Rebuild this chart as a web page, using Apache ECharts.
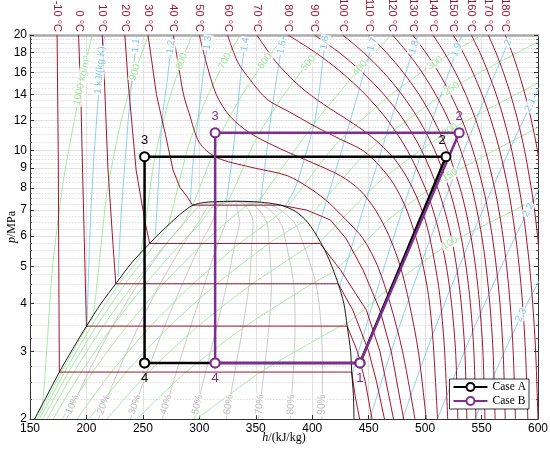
<!DOCTYPE html>
<html><head><meta charset="utf-8">
<script src="https://cdn.jsdelivr.net/npm/echarts@6/dist/echarts.min.js"></script>
<style>html,body{margin:0;padding:0;background:#fff}#c{width:550px;height:450px}</style>
</head><body><div id="c"></div>
<script>
// ---------- tick labels ----------
const pMajorTicks = [2,3,4,5,6,7,8,9,10,12,14,16,18,20];
const pMinorTicks = [2.25,2.5,2.75,3.25,3.5,3.75,4.25,4.5,4.75,5.25,5.5,5.75,6.25,6.5,6.75,7.25,7.5,7.75,8.25,8.5,8.75,9.25,9.5,9.75,10.5,11,11.5,12.5,13,13.5,14.5,15,15.5,16.5,17,17.5,18.5,19,19.5];
const topTempText = ['-10 °C','0 °C','10 °C','20 °C','30 °C','40 °C','50 °C','60 °C','70 °C','80 °C','90 °C','100 °C','110 °C','120 °C','130 °C','140 °C','150 °C','160 °C','170 °C','180 °C'];
const topTempH = [174,193,214,234,254.5,277,300,325,351,378.5,402,427,450,471,489,507,525,541,556,571];

// ---------- saturation dome [h, p] ----------
const satLiquid = [[154,2.0],[165,2.3],[176,2.65],[188,3.05],[200,3.49],[213,4.0],[226,4.5],[240,5.1],[256,5.73],[265,6.1],[275,6.5],[285,6.9],[294,7.2],[305,7.33],[318,7.37],[332,7.38]];
const satVapor = [[332,7.38],[345,7.37],[358,7.32],[372,7.21],[385,6.95],[396,6.5],[407,5.8],[415,5.2],[423,4.5],[428,4.0],[431,3.49],[434,3.0],[435,2.65],[436.5,2.3],[437,2.0]];

// ---------- isotherms (-10 ... 180 °C) [h, p] ----------
const isothermT = [-10,0,10,20,30,40,50,60,70,80,90,100,110,120,130,140,150,160,170,180];
const isotherms = [
 [[174,20],[175,10],[175.5,5],[176,2.65],[435,2.65],[438,2.3],[442,2.0]],
 [[193,20],[195,14],[196.5,9],[198,6],[200,3.49],[431,3.49],[440,3.0],[447,2.5],[453,2.0]],
 [[214,20],[216,15],[219,9],[221.5,7],[223.5,5.7],[226,4.5],[423,4.5],[436,3.84],[450,3.0],[457,2.5],[464,2.0]],
 [[234,20],[237,15],[240,12],[244,8.9],[249,7.3],[252.5,6.4],[256,5.73],[407,5.73],[425,4.89],[448,3.84],[460,3.0],[472,2.0]],
 [[254.5,20],[258,17],[262,14],[270,11],[276.7,8.9],[283,8.0],[289,7.6],[294,7.21],[372,7.21],[395,7.0],[416,6.6],[430,5.9],[445,4.89],[460,3.84],[470,3.0],[481,2.0]],
 [[277,20],[281,17],[286,14],[291,12.5],[300,10.5],[315,9.6],[345,9.06],[378,8.6],[400,7.9],[415,7.3],[430,6.6],[445,5.9],[458,5.0],[469,4.0],[480,3.0],[491,2.0]],
 [[300,20],[306,17],[315,14],[327,12.3],[345,11.1],[372,10.1],[400,9.3],[425,8.6],[442,7.9],[456,7.0],[468,6.0],[478,5.0],[486,4.0],[494,3.0],[501,2.0]],
 [[325,20],[334,17],[345,15.3],[360,13.6],[380,12.6],[404,11.5],[425,10.7],[445,10.0],[460,9.1],[472,8.2],[482,7.2],[490,6.2],[497,5.2],[503,4.2],[507,3.2],[511,2.0]],
 [[351,20],[368,17],[389,14.7],[410,13.2],[428,12.2],[445,11.3],[460,10.4],[473,9.5],[484,8.5],[494,7.4],[502,6.3],[508,5.2],[513,4.2],[517,3.1],[520,2.0]],
 [[378.5,20],[402.9,18],[425.7,16],[447,14],[466.7,12],[484.4,10],[500,8],[507,7],[513.2,6],[518.8,5],[523.4,4],[527,3],[529,2]],
 [[402,20],[423.9,18],[444.3,16],[463.5,14],[481.1,12],[497,10],[511,8],[517.2,7],[522.9,6],[527.8,5],[532,4],[535.2,3],[537,2]],
 [[427,20],[445.5,18],[463,16],[479.4,14],[494.7,12],[508.6,10],[521,8],[526.6,7],[531.7,6],[536.2,5],[540.1,4],[543.2,3],[545,2]],
 [[450,20],[465.7,18],[480.5,16],[494.6,14],[507.8,12],[519.9,10],[530.9,8],[535.9,7],[540.5,6],[544.6,5],[548.2,4],[551.2,3],[553,2]],
 [[471,20],[484.4,18],[497.2,16],[509.3,14],[520.9,12],[531.6,10],[541.4,8],[545.8,7],[550.1,6],[553.9,5],[557.3,4],[560.2,3],[562,2]],
 [[489,20],[500.6,18],[511.8,16],[522.6,14],[532.8,12],[542.4,10],[551.4,8],[555.5,7],[559.4,6],[563,5],[566.3,4],[569.1,3],[571,2]],
 [[507,20],[517,18],[526.7,16],[536,14],[545,12],[553.5,10],[561.5,8],[565.3,7],[568.9,6],[572.2,5],[575.3,4],[578,3],[580,2]],
 [[525,20],[533.7,18],[542.2,16],[550.4,14],[558.4,12],[566.1,10],[573.4,8],[576.8,7],[580.1,6],[583.3,5],[586.3,4],[588.9,3],[591,2]],
 [[541,20],[548.5,18],[555.8,16],[563,14],[570,12],[576.8,10],[583.3,8],[586.5,7],[589.5,6],[592.5,5],[595.3,4],[597.9,3],[600,2]],
 [[556,20],[562.7,18],[569.3,16],[575.7,14],[582,12],[588.1,10],[594,8],[596.9,7],[599.6,6],[602.2,5],[604.8,4],[607.1,3],[609,2]],
 [[571,20],[577,18],[582.8,16],[588.5,14],[594.1,12],[599.5,10],[604.7,8],[607.2,7],[609.7,6],[612,5],[614.2,4],[616.3,3],[618,2]]
];

// ---------- isentropes s = 1.0 ... 2.3 kJ/(kg K) [h, p] ----------
const isentropeS = [1.0,1.1,1.2,1.3,1.4,1.5,1.6,1.7,1.8,1.9,2.0,2.1,2.2,2.3];
const isentropes = [
 [[200.5,3.49],[203,6],[206,9],[209,12],[212.5,16],[216,20]],
 [[228,4.7],[231,7],[235,10],[239,14],[245,20]],
 [[261,6.0],[263.5,8],[267,12],[272,15.6],[276,20]],
 [[292,7.25],[294,9],[298.8,12],[303.2,15.6],[308.5,20]],
 [[324,7.37],[330,10],[334,13],[337.5,16.5],[342,20]],
 [[354,7.33],[358,9],[363,12],[370,16.5],[375,20]],
 [[376,7.15],[385,8],[393,9.5],[402.4,12],[406.5,14.5],[409.5,17.2],[412,20]],
 [[403,6.0],[410.1,7],[416.2,8],[426,10],[433.8,12],[440.3,14],[446,16],[451.2,18],[455.8,20]],
 [[424,4.4],[429.7,5],[437.9,6],[444.9,7],[451.1,8],[461.3,10],[469.6,12],[476.8,14],[483,16],[488.5,18],[493.6,20]],
 [[435,2.6],[441.1,3],[453.8,4],[464,5],[472.5,6],[479.9,7],[486.4,8],[497.3,10],[506.4,12],[514.2,14],[521,16],[527.1,18],[532.6,20]],
 [[451,2],[469.9,3],[484.2,4],[495.8,5],[505.6,6],[514.1,7],[521.6,8],[534.4,10],[545.1,12],[554.3,14],[562.5,16],[569.8,18],[576.4,20]],
 [[480,2],[501.2,3],[517.3,4],[530.4,5],[541.4,6],[551.1,7],[559.7,8],[574.5,10],[587,12],[598,14],[608,16]],
 [[511,2],[534.8,3],[552.9,4],[567.7,5],[580.3,6],[591.2,7],[601,8]],
 [[544,2],[570.4,3],[590.5,4],[608,5]]
];
const isentropeLabelText = ['1 kJ/(kg K)','1.1','1.2','1.3','1.4','1.5','1.6','1.7','1.8','1.9','2','2.1','2.2','2.3'];
const isentropeLabelAt = [[212,16.2],[243.8,18.8],[274.7,18.6],[307.4,19.1],[340.6,18.9],[373,18.6],[411.2,19.1],[453.3,18.9],[490.2,18.6],[527.9,18.3],[573.4,19.1],[593.3,13.15],[591.2,7.0],[585,3.73]];

// ---------- isochores rho = 1000 ... 100 kg/m3 [h, p] ----------
const isochoreRho = [1000,900,800,700,600,500,400,300,250,200,150,100];
const isochores = [
 [[154.5,2.0],[161,2.18],[170,5],[180,8.5],[190,12.3],[198.7,16.5],[205,20]],
 [[156.3,2.0],[177.9,2.65],[200.8,3.49],[206,3.72],[218,7.7],[230,11.7],[243,16],[255,20]],
 [[158.5,2.0],[180.6,2.65],[204.3,3.49],[228.8,4.5],[247,5.3],[260,9.4],[272,13.2],[284.4,17.1],[293.6,20]],
 [[161.3,2.0],[184.2,2.65],[208.8,3.49],[234.5,4.5],[261.3,5.73],[272,6.35],[290,10.2],[305,13.4],[322.7,17.1],[336.4,20]],
 [[165.1,2.0],[188.9,2.65],[214.8,3.49],[242,4.5],[270.6,5.73],[285.4,6.43],[294,7.2],[320,11.2],[340,14.3],[358,17.1],[376.7,20]],
 [[170.4,2.0],[195.5,2.65],[223.2,3.49],[252.5,4.5],[283.6,5.73],[300.1,6.43],[313.1,7.21],[325,7.37],[350,10.7],[375,14.0],[396.5,16.9],[419.8,20]],
 [[178.4,2.0],[205.4,2.65],[235.8,3.49],[268.2,4.5],[303.2,5.73],[322.1,6.43],[342.7,7.21],[352,7.36],[372,8.9],[404,12.0],[442.3,16.4],[470,20]],
 [[191.6,2.0],[222,2.65],[256.8,3.49],[294.5,4.5],[335.7,5.73],[358.8,6.43],[377,7.1],[420,10.3],[465,13.65],[508.7,16.9],[550.4,20]],
 [[202.2,2.0],[235.2,2.65],[273.6,3.49],[315.5,4.5],[361.8,5.73],[388.2,6.43],[393,6.5],[450,10.0],[523.5,14.5],[600,19.2]],
 [[218.1,2.0],[255.1,2.65],[298.8,3.49],[347.1,4.5],[401,5.73],[407,5.8],[460,8.33],[522,11.3],[600,15.0]],
 [[244.6,2.0],[288.2,2.65],[340.8,3.49],[399.7,4.5],[419,4.85],[470,6.7],[522,8.63],[600,11.5]],
 [[297.7,2.0],[354.4,2.65],[424.8,3.49],[431,3.55],[475,4.55],[522,5.74],[600,7.5]]
];
const isochoreLabelText = ['1000 kg/m³','900','800','700','600','500','400','300','250','200','150','100'];
const isochoreLabelAt = [[196,15.2],[243,16],[284.4,17.1],[322.7,17.1],[358,17.1],[396.5,16.9],[442.3,16.4],[508.7,16.9],[523.5,14.5],[522,11.3],[522,8.63],[522,5.74]];

// ---------- vapour quality lines x = 10 % ... 90 % [h, p] ----------
const qualityText = ['10%','20%','30%','40%','50%','60%','70%','80%','90%'];
const qualityLines = [
 [[182.3,2.0],[201.9,2.65],[223.1,3.49],[245.7,4.5],[271.1,5.73],[287.1,6.5],[301.8,7.2],[332,7.38]],
 [[210.6,2.0],[227.8,2.65],[246.2,3.49],[265.4,4.5],[286.2,5.73],[299.2,6.5],[309.6,7.2],[332,7.38]],
 [[238.9,2.0],[253.7,2.65],[269.3,3.49],[285.1,4.5],[301.3,5.73],[311.3,6.5],[317.4,7.2],[332,7.38]],
 [[267.2,2.0],[279.6,2.65],[292.4,3.49],[304.8,4.5],[316.4,5.73],[323.4,6.5],[325.2,7.2],[332,7.38]],
 [[295.5,2.0],[305.5,2.65],[315.5,3.49],[324.5,4.5],[331.5,5.73],[335.5,6.5],[333,7.2],[332,7.38]],
 [[323.8,2.0],[331.4,2.65],[338.6,3.49],[344.2,4.5],[346.6,5.73],[347.6,6.5],[340.8,7.2],[332,7.38]],
 [[352.1,2.0],[357.3,2.65],[361.7,3.49],[363.9,4.5],[361.7,5.73],[359.7,6.5],[348.6,7.2],[332,7.38]],
 [[380.4,2.0],[383.2,2.65],[384.8,3.49],[383.6,4.5],[376.8,5.73],[371.8,6.5],[356.4,7.2],[332,7.38]],
 [[408.7,2.0],[409.1,2.65],[407.9,3.49],[403.3,4.5],[391.9,5.73],[383.9,6.5],[364.2,7.2],[332,7.38]]
];
const qualityLabelAt = [[187.7,2.18],[215.4,2.18],[243,2.18],[270.6,2.18],[298.3,2.18],[325.9,2.18],[353.5,2.18],[381.2,2.18],[408.8,2.18]];

// ---------- cycles [h, p] ----------
const caseA = [[251.5,2.80],[442.3,2.80],[518.5,9.64],[251.5,9.64],[251.5,2.80]];
const caseB = [[314,2.80],[442.3,2.80],[530.2,11.13],[314,11.13],[314,2.80]];
const caseAPointText = ['4','','2','3',''];
const caseBPointText = ['4','1','2','3',''];

// ---------- styling ----------
const SANS = 'Liberation Sans, Arial, sans-serif';
const SERIF = 'Liberation Serif, Times New Roman, serif';
const C = {iso:'#a2142f', sC:'#7fcbea', sL:'#5fbce6', rho:'#9be89b', rhoL:'#86dc86', q:'#bdbdbd', qL:'#aaaaaa', A:'#000000', B:'#7e2f8e'};
const isentropeRot = [85,84,83,82,80,80,80,74,72,71,67,64,64,65];
const isochoreRot = [78,72,70,62,54,50,49,34,33,32,31,31];
const qualityRot = [65,68,71,73,76,81,84,87,90];
const ptPos = {'4':'bottom','1':'bottom','2':'top','3':'top'};

const log10 = v => Math.log(v) / Math.LN10;
const majorLog = pMajorTicks.map(log10);
const minorLog = pMinorTicks.map(log10);
const yLogMin = log10(2), yLogMax = log10(20);
function pLabel(v){ let best = pMajorTicks[0], d = 1e9; pMajorTicks.forEach(t => { const e = Math.abs(log10(t) - v); if (e < d) { d = e; best = t; } }); return String(best); }

const series = [];
function curve(d, color, width, smooth, z){ series.push({type:'line', data:d, symbol:'none', smooth:smooth, lineStyle:{color:color, width:width}, z:z, silent:true, animation:false, xAxisIndex:0, yAxisIndex:0}); }
qualityLines.forEach(d => curve(d, C.q, 0.8, 0.3, 2));
isochores.forEach(d => curve(d, C.rho, 0.9, 0.2, 2));
isentropes.forEach(d => curve(d, C.sC, 0.9, 0.3, 2));
isotherms.forEach((d,i) => curve(d, C.iso, 1, isothermT[i] >= 40 ? 0.3 : false, 3));
curve(satLiquid.concat(satVapor.slice(1)), '#000', 0.9, 0.3, 3);

function labels(texts, at, rots, color, size){
  series.push({type:'scatter', xAxisIndex:0, yAxisIndex:0, symbolSize:1, itemStyle:{color:'rgba(0,0,0,0)'}, silent:true, animation:false, z:4,
    label:{show:true, position:'inside', color:color, fontSize:size, fontFamily:SANS, backgroundColor:'#fff', padding:[0,1]},
    data: at.map((a,i) => ({value:a, label:{formatter:texts[i], rotate:rots[i]}}))});
}
labels(isochoreLabelText, isochoreLabelAt, isochoreRot, C.rhoL, 10);
labels(isentropeLabelText, isentropeLabelAt, isentropeRot, C.sL, 10);
labels(qualityText, qualityLabelAt, qualityRot, C.qL, 10);

function cycle(name, pts, texts, color){
  series.push({name:name, type:'line', xAxisIndex:0, yAxisIndex:0, z:10, animation:false,
    symbol:'emptyCircle', symbolSize:9, lineStyle:{color:color, width:2.5}, itemStyle:{color:color, borderWidth:2.2},
    label:{color:color, fontSize:13, fontFamily:SANS},
    data: pts.map((v,i) => ({value:v, label:{show: texts[i] !== '', formatter:texts[i], position: ptPos[texts[i]] || 'top', distance:4, offset: (name==='Case A' && texts[i]==='2') ? [-4,0] : [0,0]}}))});
}
cycle('Case A', caseA, caseAPointText, C.A);
cycle('Case B', caseB, caseBPointText, C.B);

const lab = {color:'#000', fontSize:12, fontFamily:SANS};
const option = {
  animation:false,
  backgroundColor:'#fff',
  grid:{left:30, right:12, top:35, bottom:31, containLabel:false, outerBoundsMode:'none'},
  legend:{data:['Case A','Case B'], orient:'vertical', right:21, bottom:41, itemWidth:34, itemHeight:10, itemGap:2, padding:[2,3],
    borderColor:'#000', borderWidth:0.8, backgroundColor:'#fff', textStyle:{fontFamily:SERIF, fontSize:11.5, color:'#000'}},
  xAxis:[
    {type:'value', min:150, max:600, interval:50, position:'bottom',
     name:'{i|h}/(kJ/kg)', nameLocation:'middle', nameGap:13, nameMoveOverlap:false, nameTextStyle:{fontFamily:SERIF, fontSize:12, color:'#000', rich:{i:{fontStyle:'italic', fontFamily:SERIF, fontSize:12}}},
     axisLine:{lineStyle:{color:'#333', width:1}}, axisTick:{inside:true, length:4, lineStyle:{color:'#333'}},
     axisLabel:Object.assign({margin:4}, lab), splitLine:{show:true, lineStyle:{color:'#e2e2e2', width:1}}},
    {type:'value', min:150, max:600, position:'top',
     axisLine:{show:true, lineStyle:{color:'#aaaaaa', width:2.5}}, axisTick:{show:false}, splitLine:{show:false},
     axisLabel:{customValues:topTempH, rotate:90, margin:3, color:C.iso, fontSize:11, fontFamily:SANS,
       formatter: v => { const i = topTempH.indexOf(v); return i >= 0 ? topTempText[i] : ''; }}}
  ],
  yAxis:[
    {type:'log', logBase:10, min:2, max:20, show:false},
    {type:'value', min:yLogMin, max:yLogMax, position:'left',
     name:'{i|p}/MPa', nameLocation:'middle', nameGap:12, nameMoveOverlap:false, nameRotate:90, nameTextStyle:{fontFamily:SERIF, fontSize:12, color:'#000', rich:{i:{fontStyle:'italic', fontFamily:SERIF, fontSize:12}}},
     axisLine:{show:true, lineStyle:{color:'#333'}}, axisTick:{show:true, inside:true, length:4, customValues:majorLog, lineStyle:{color:'#333'}},
     axisLabel:Object.assign({customValues:majorLog, margin:3, formatter:pLabel}, lab),
     splitLine:{show:true, lineStyle:{color:'#e2e2e2', width:1}}},
    {type:'value', min:yLogMin, max:yLogMax, position:'left',
     axisLine:{show:false}, axisLabel:{show:false}, axisTick:{show:true, inside:true, length:2, customValues:minorLog, lineStyle:{color:'#555'}},
     splitLine:{show:true, lineStyle:{color:'#d6d6d6', width:0.8, type:[1.5,1.5]}}},
    {type:'value', min:yLogMin, max:yLogMax, position:'right',
     axisLine:{show:true, lineStyle:{color:'#333'}}, axisLabel:{show:false}, axisTick:{show:true, inside:true, length:4, customValues:majorLog, lineStyle:{color:'#333'}}, splitLine:{show:false}},
    {type:'value', min:yLogMin, max:yLogMax, position:'right',
     axisLine:{show:false}, axisLabel:{show:false}, axisTick:{show:true, inside:true, length:2, customValues:minorLog, lineStyle:{color:'#555'}}, splitLine:{show:false}}
  ],
  series: series
};
const chart = echarts.init(document.getElementById('c'), null, {renderer:'canvas'});
chart.setOption(option);
</script></body></html>
